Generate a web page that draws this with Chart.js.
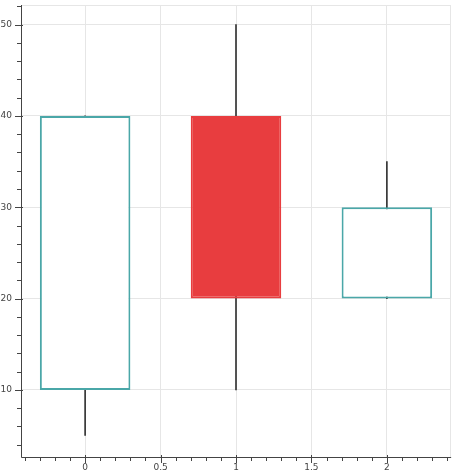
<!DOCTYPE html>
<html>
<head>
<meta charset="utf-8">
<script src="https://cdn.jsdelivr.net/npm/chart.js@4/dist/chart.umd.min.js"></script>
<style>
  html, body { margin: 0; padding: 0; background: #fff; }
  #wrap { width: 474px; height: 474px; }
</style>
</head>
<body>
<div id="wrap"><canvas id="candles" width="474" height="474"></canvas></div>
<script>
// candle data
const xs = [0, 1, 2];
const opens = [10, 40, 20];
const closes = [40, 20, 30];
const highs = [40, 50, 35];
const lows = [5, 10, 20];

const xTicks = [0, 0.5, 1, 1.5, 2];
const yTicks = [10, 20, 30, 40, 50];

const teal = "#4aa7a8";
const red = "#e83d3f";

const bodies = xs.map((x, i) => ({ x: x, y: [opens[i], closes[i]] }));
const wicks = xs.map((x, i) => ({ x: x, y: [lows[i], highs[i]] }));
const bodyFill = xs.map((x, i) => (closes[i] > opens[i] ? "#ffffff" : red));
const bodyLine = xs.map((x, i) => (closes[i] > opens[i] ? teal : red));

// bokeh-ish ticks: major out 6, minor out 4
const axisTicks = {
  id: "axisTicks",
  afterDraw(chart) {
    const ctx = chart.ctx;
    const area = chart.chartArea;
    const sx = chart.scales.x;
    const sy = chart.scales.y;
    ctx.save();
    ctx.strokeStyle = "#444";
    ctx.lineWidth = 1;
    ctx.beginPath();
    ctx.moveTo(area.left + 0.5, area.top);
    ctx.lineTo(area.left + 0.5, area.bottom + 0.5);
    ctx.lineTo(area.right, area.bottom + 0.5);
    ctx.stroke();
    ctx.beginPath();
    for (let v = -0.4; v <= 2.41; v += 0.1) {
      const major = Math.abs(v * 2 - Math.round(v * 2)) < 1e-6;
      const px = Math.round(sx.getPixelForValue(v)) + 0.5;
      ctx.moveTo(px, area.bottom - (major ? 2 : 0));
      ctx.lineTo(px, area.bottom + (major ? 6 : 4));
    }
    for (let v = 4; v <= 52; v += 2) {
      const major = v % 10 === 0;
      const py = Math.round(sy.getPixelForValue(v)) + 0.5;
      ctx.moveTo(area.left + (major ? 2 : 0), py);
      ctx.lineTo(area.left - (major ? 6 : 4), py);
    }
    ctx.stroke();
    ctx.restore();
  }
};

new Chart(document.getElementById("candles"), {
  type: "bar",
  data: {
    datasets: [
      {
        label: "body",
        data: bodies,
        backgroundColor: bodyFill,
        borderColor: bodyLine,
        borderWidth: 2,
        borderSkipped: false,
        // tick spacing is 0.5, so 1.2 of it = 0.6 x-units wide
        barPercentage: 1.2,
        categoryPercentage: 1,
        order: 0
      },
      {
        label: "wick",
        data: wicks,
        backgroundColor: "#333",
        borderWidth: 0,
        barThickness: 1,
        order: 1
      }
    ]
  },
  options: {
    responsive: false,
    animation: false,
    grouped: false,
    layout: { padding: { top: 5, right: 23, left: 0, bottom: 0 } },
    plugins: { legend: { display: false }, tooltip: { enabled: false } },
    scales: {
      x: {
        type: "linear",
        min: -0.425,
        max: 2.425,
        offset: false,
        afterBuildTicks(scale) { scale.ticks = xTicks.map(v => ({ value: v })); },
        afterFit(scale) {
          scale.height = 17;
          scale.paddingLeft = 0;
          scale.paddingRight = 0;
        },
        grid: { color: "#e6e6e6", drawTicks: false, offset: false },
        border: { display: true, color: "#e6e6e6" },
        ticks: {
          padding: 5,
          color: "#444",
          font: { family: "DejaVu Sans", size: 9 },
          maxRotation: 0,
          callback: v => String(v)
        }
      },
      y: {
        min: 2.65,
        max: 52.15,
        afterBuildTicks(scale) { scale.ticks = yTicks.map(v => ({ value: v })); },
        afterFit(scale) {
          scale.width = 21;
          scale.paddingTop = 0;
          scale.paddingBottom = 0;
        },
        grid: { color: "#e6e6e6", drawTicks: false },
        border: { display: false },
        ticks: {
          padding: 9,
          color: "#444",
          font: { family: "DejaVu Sans", size: 9 }
        }
      }
    }
  },
  plugins: [
    axisTicks,
    {
      id: "outline",
      beforeDatasetsDraw(chart) {
        const a = chart.chartArea;
        const ctx = chart.ctx;
        ctx.save();
        ctx.strokeStyle = "#e6e6e6";
        ctx.lineWidth = 1;
        ctx.strokeRect(a.left + 0.5, a.top + 0.5, a.right - a.left - 1, a.bottom - a.top);
        ctx.restore();
      }
    }
  ]
});
</script>
</body>
</html>
